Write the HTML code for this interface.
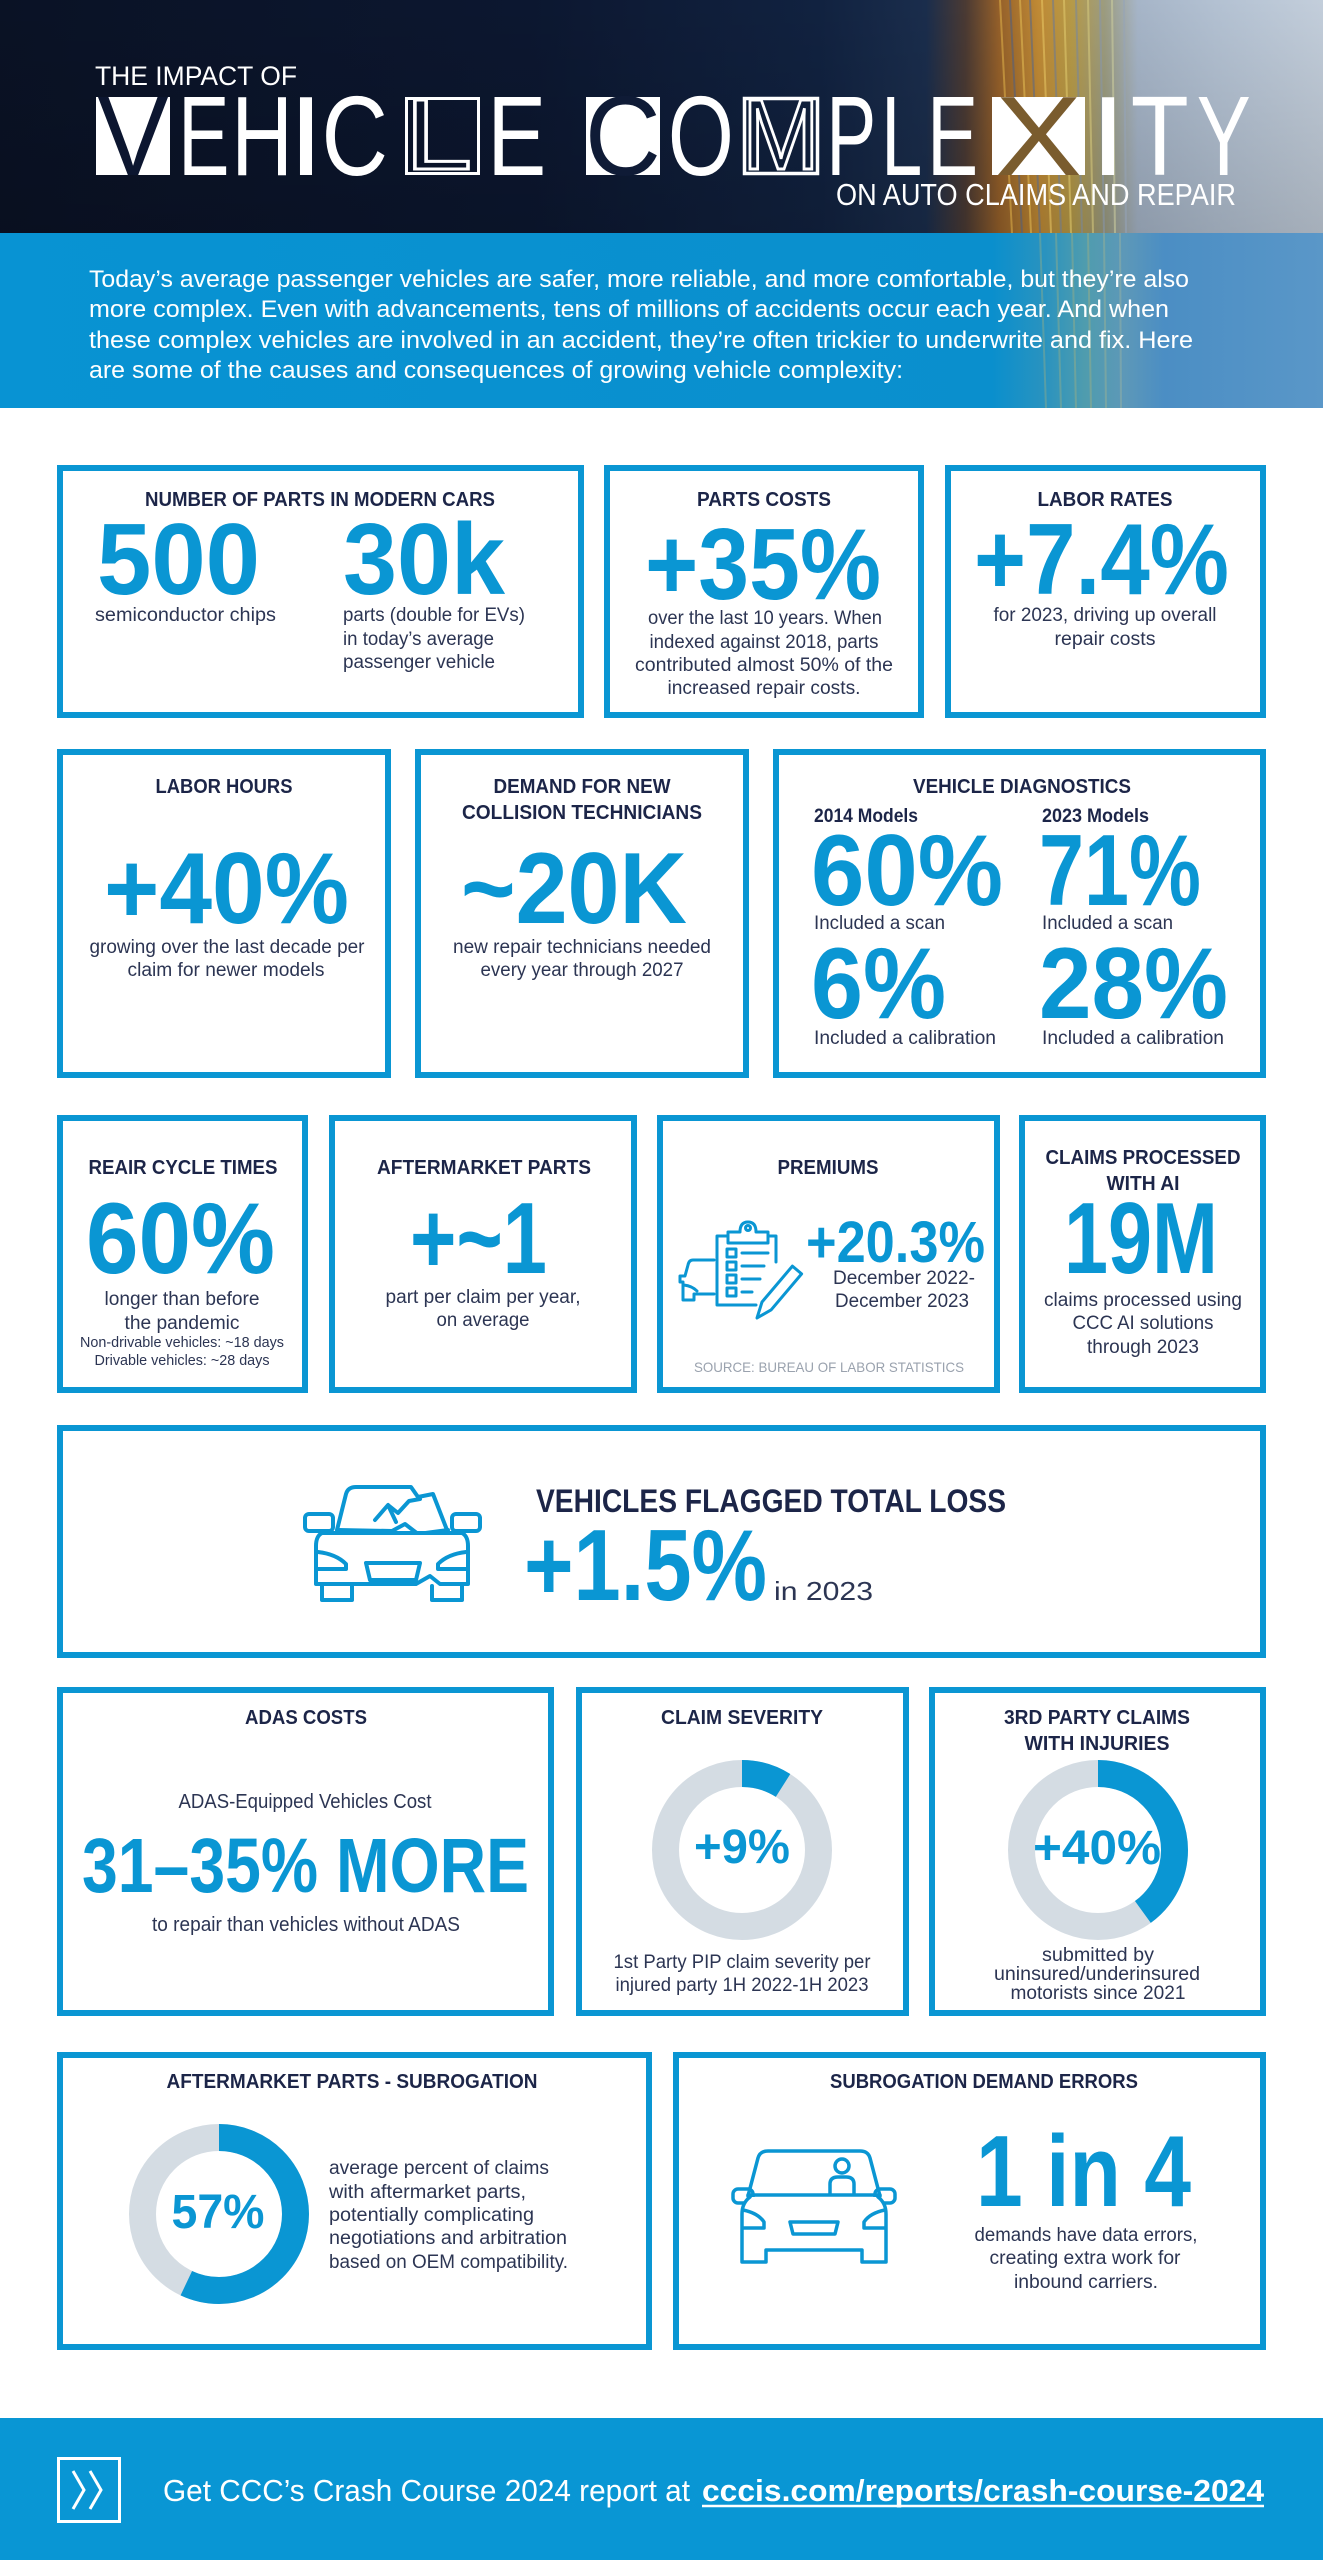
<!DOCTYPE html>
<html><head><meta charset="utf-8">
<style>
html,body{margin:0;padding:0;background:#fff;}
svg{display:block;}
text{font-family:"Liberation Sans",Arial,sans-serif;}
.t{font-weight:700;fill:#1c2548;font-size:20px;text-anchor:middle;}
.b{font-size:19px;fill:#2c3553;text-anchor:middle;}
.bl{font-size:19px;fill:#2c3553;}
.n{font-weight:700;fill:#0a96d3;font-size:101px;}
.nm{font-weight:700;fill:#0a96d3;font-size:48px;text-anchor:middle;}
.bx{fill:none;stroke:#0a96d3;stroke-width:6;}
.ic{fill:none;stroke:#0a96d3;stroke-width:4;stroke-linejoin:round;stroke-linecap:round;}
.hl{fill:#fff;font-size:113px;}
</style></head><body>
<svg width="1323" height="2560" viewBox="0 0 1323 2560" xmlns="http://www.w3.org/2000/svg">
<defs>
<linearGradient id="hg" x1="0" x2="1" y1="0" y2="0">
<stop offset="0" stop-color="#0a1225"/>
<stop offset="0.4" stop-color="#0c1730"/>
<stop offset="0.62" stop-color="#112240"/>
<stop offset="0.70" stop-color="#1a2d4c"/>
<stop offset="0.73" stop-color="#4b3a33"/>
<stop offset="0.755" stop-color="#95602a"/>
<stop offset="0.785" stop-color="#c08a35"/>
<stop offset="0.81" stop-color="#b69a48"/>
<stop offset="0.835" stop-color="#9c9c80"/>
<stop offset="0.86" stop-color="#a6b5c8"/>
<stop offset="0.92" stop-color="#b3c1d2"/>
<stop offset="1" stop-color="#c3cedb"/>
</linearGradient>
<linearGradient id="bg2" x1="0" x2="1" y1="0" y2="0">
<stop offset="0" stop-color="#0893d3"/>
<stop offset="0.75" stop-color="#0a8fcd"/>
<stop offset="0.79" stop-color="#2a93bf"/>
<stop offset="0.82" stop-color="#4f9cae"/>
<stop offset="0.85" stop-color="#5d98b8"/>
<stop offset="0.88" stop-color="#4b8ec4"/>
<stop offset="1" stop-color="#5a97c8"/>
</linearGradient>
<linearGradient id="vg" x1="0" x2="0" y1="0" y2="1">
<stop offset="0" stop-color="#000" stop-opacity="0"/>
<stop offset="1" stop-color="#000" stop-opacity="0.15"/>
</linearGradient>
</defs>

<!-- HEADER -->
<rect x="0" y="0" width="1323" height="233" fill="url(#hg)"/>
<rect x="0" y="0" width="1323" height="233" fill="url(#vg)"/>
<rect x="0" y="233" width="1323" height="175" fill="url(#bg2)"/>
<g stroke-width="2" opacity="0.55">
<line x1="1000" y1="0" x2="1012" y2="233" stroke="#e0b24a"/>
<line x1="1010" y1="0" x2="1022" y2="233" stroke="#4d5f85"/>
<line x1="1020" y1="0" x2="1031" y2="233" stroke="#e4bd55"/>
<line x1="1030" y1="0" x2="1040" y2="233" stroke="#56688c"/>
<line x1="1042" y1="0" x2="1051" y2="233" stroke="#e8c866"/>
<line x1="1053" y1="0" x2="1061" y2="233" stroke="#6a7a98"/>
<line x1="1064" y1="0" x2="1071" y2="233" stroke="#e2cc70"/>
<line x1="1076" y1="0" x2="1082" y2="233" stroke="#7687a2"/>
<line x1="1088" y1="0" x2="1093" y2="233" stroke="#d8cc80"/>
<line x1="1100" y1="0" x2="1104" y2="233" stroke="#8696ae"/>
<line x1="1112" y1="0" x2="1115" y2="233" stroke="#cfd0a0"/>
<line x1="1124" y1="0" x2="1126" y2="233" stroke="#95a4ba"/>
</g>
<g stroke-width="2" opacity="0.25">
<line x1="1040" y1="233" x2="1046" y2="408" stroke="#e0c060"/>
<line x1="1056" y1="233" x2="1061" y2="408" stroke="#e0c060"/>
<line x1="1072" y1="233" x2="1076" y2="408" stroke="#e0c060"/>
<line x1="1088" y1="233" x2="1091" y2="408" stroke="#e0c060"/>
<line x1="1104" y1="233" x2="1106" y2="408" stroke="#d8c878"/>
<line x1="1120" y1="233" x2="1121" y2="408" stroke="#d0c890"/>
</g>

<text x="95" y="85" fill="#fff" font-size="27" textLength="202" lengthAdjust="spacingAndGlyphs">THE IMPACT OF</text>

<!-- VEHICLE -->
<rect x="96" y="97" width="74" height="78" fill="#fff"/>
<text x="97.5" y="175" class="hl" style="fill:#0c1630" textLength="71" lengthAdjust="spacingAndGlyphs">V</text>
<text x="178.1" y="175" class="hl" textLength="51.3" lengthAdjust="spacingAndGlyphs">E</text>
<text x="231.2" y="175" class="hl" textLength="61.7" lengthAdjust="spacingAndGlyphs">H</text>
<text x="288.1" y="175" class="hl" textLength="35.8" lengthAdjust="spacingAndGlyphs">I</text>
<text x="321.5" y="175" class="hl" textLength="66.5" lengthAdjust="spacingAndGlyphs">C</text>
<rect x="406.5" y="98.5" width="72" height="75" fill="none" stroke="#fff" stroke-width="3"/>
<text x="405" y="169" font-size="100" fill="none" stroke="#fff" stroke-width="3" textLength="67" lengthAdjust="spacingAndGlyphs">L</text>
<text x="487.2" y="175" class="hl" textLength="59" lengthAdjust="spacingAndGlyphs">E</text>
<!-- COMPLEXITY -->
<rect x="586" y="97" width="74" height="78" fill="#fff"/>
<text x="584.9" y="175" class="hl" style="fill:#0f1b36" textLength="76" lengthAdjust="spacingAndGlyphs">C</text>
<text x="667.9" y="175" class="hl" textLength="66" lengthAdjust="spacingAndGlyphs">O</text>
<rect x="744.5" y="98.5" width="73" height="75" fill="none" stroke="#fff" stroke-width="3.5"/>
<text x="742.4" y="169" font-size="100" fill="none" stroke="#fff" stroke-width="3" textLength="77" lengthAdjust="spacingAndGlyphs">M</text>
<text x="826.2" y="175" class="hl" textLength="50" lengthAdjust="spacingAndGlyphs">P</text>
<text x="881.3" y="175" class="hl" textLength="41" lengthAdjust="spacingAndGlyphs">L</text>
<text x="927.1" y="175" class="hl" textLength="51" lengthAdjust="spacingAndGlyphs">E</text>
<rect x="992" y="97" width="93" height="78" fill="#fff"/>
<text x="995" y="175" class="hl" style="fill:#7a5c2e" textLength="87" lengthAdjust="spacingAndGlyphs">X</text>
<text x="1090.1" y="175" class="hl" textLength="36" lengthAdjust="spacingAndGlyphs">I</text>
<text x="1130.8" y="175" class="hl" textLength="58" lengthAdjust="spacingAndGlyphs">T</text>
<text x="1196.8" y="175" class="hl" textLength="54" lengthAdjust="spacingAndGlyphs">Y</text>

<text x="836" y="205" fill="#fff" font-size="31" textLength="400" lengthAdjust="spacingAndGlyphs">ON AUTO CLAIMS AND REPAIR</text>

<g fill="#fff" font-size="24">
<text x="89" y="287" textLength="1100" lengthAdjust="spacingAndGlyphs">Today’s average passenger vehicles are safer, more reliable, and more comfortable, but they’re also</text>
<text x="89" y="317" textLength="1080" lengthAdjust="spacingAndGlyphs">more complex. Even with advancements, tens of millions of accidents occur each year. And when</text>
<text x="89" y="348" textLength="1104" lengthAdjust="spacingAndGlyphs">these complex vehicles are involved in an accident, they’re often trickier to underwrite and fix. Here</text>
<text x="89" y="378" textLength="814" lengthAdjust="spacingAndGlyphs">are some of the causes and consequences of growing vehicle complexity:</text>
</g>

<!-- ROW 1 -->
<rect class="bx" x="60" y="468" width="521" height="247"/>
<rect class="bx" x="607" y="468" width="314" height="247"/>
<rect class="bx" x="948" y="468" width="315" height="247"/>

<text class="t" x="320" y="506" textLength="350" lengthAdjust="spacingAndGlyphs">NUMBER OF PARTS IN MODERN CARS</text>
<text class="n" x="97" y="594" textLength="163" lengthAdjust="spacingAndGlyphs">500</text>
<text class="n" x="343" y="594" textLength="162" lengthAdjust="spacingAndGlyphs">30k</text>
<text class="bl" x="95" y="621" textLength="181" lengthAdjust="spacingAndGlyphs">semiconductor chips</text>
<text class="bl" x="343" y="621" textLength="182" lengthAdjust="spacingAndGlyphs">parts (double for EVs)</text>
<text class="bl" x="343" y="645" textLength="151" lengthAdjust="spacingAndGlyphs">in today’s average</text>
<text class="bl" x="343" y="668" textLength="152" lengthAdjust="spacingAndGlyphs">passenger vehicle</text>

<text class="t" x="764" y="506" textLength="134" lengthAdjust="spacingAndGlyphs">PARTS COSTS</text>
<text class="n" x="645" y="599" textLength="236" lengthAdjust="spacingAndGlyphs">+35%</text>
<text class="b" x="765" y="624" textLength="234" lengthAdjust="spacingAndGlyphs">over the last 10 years. When</text>
<text class="b" x="764" y="648" textLength="229" lengthAdjust="spacingAndGlyphs">indexed against 2018, parts</text>
<text class="b" x="764" y="671" textLength="258" lengthAdjust="spacingAndGlyphs">contributed almost 50% of the</text>
<text class="b" x="764" y="694" textLength="193" lengthAdjust="spacingAndGlyphs">increased repair costs.</text>

<text class="t" x="1105" y="506" textLength="135" lengthAdjust="spacingAndGlyphs">LABOR RATES</text>
<text class="n" x="974" y="594" textLength="255" lengthAdjust="spacingAndGlyphs">+7.4%</text>
<text class="b" x="1105" y="621" textLength="223" lengthAdjust="spacingAndGlyphs">for 2023, driving up overall</text>
<text class="b" x="1105" y="645" textLength="101" lengthAdjust="spacingAndGlyphs">repair costs</text>

<!-- ROW 2 -->
<rect class="bx" x="60" y="752" width="328" height="323"/>
<rect class="bx" x="418" y="752" width="328" height="323"/>
<rect class="bx" x="776" y="752" width="487" height="323"/>

<text class="t" x="224" y="793" textLength="137" lengthAdjust="spacingAndGlyphs">LABOR HOURS</text>
<text class="n" x="104" y="923" textLength="245" lengthAdjust="spacingAndGlyphs">+40%</text>
<text class="b" x="227" y="953" textLength="275" lengthAdjust="spacingAndGlyphs">growing over the last decade per</text>
<text class="b" x="226" y="976" textLength="197" lengthAdjust="spacingAndGlyphs">claim for newer models</text>

<text class="t" x="582" y="793" textLength="177" lengthAdjust="spacingAndGlyphs">DEMAND FOR NEW</text>
<text class="t" x="582" y="819" textLength="240" lengthAdjust="spacingAndGlyphs">COLLISION TECHNICIANS</text>
<text class="n" x="461" y="923" textLength="226" lengthAdjust="spacingAndGlyphs">~20K</text>
<text class="b" x="582" y="953" textLength="258" lengthAdjust="spacingAndGlyphs">new repair technicians needed</text>
<text class="b" x="582" y="976" textLength="203" lengthAdjust="spacingAndGlyphs">every year through 2027</text>

<text class="t" x="1022" y="793" textLength="218" lengthAdjust="spacingAndGlyphs">VEHICLE DIAGNOSTICS</text>
<text x="814" y="822" font-size="19" font-weight="700" fill="#1c2548" textLength="104" lengthAdjust="spacingAndGlyphs">2014 Models</text>
<text x="1042" y="822" font-size="19" font-weight="700" fill="#1c2548" textLength="107" lengthAdjust="spacingAndGlyphs">2023 Models</text>
<text class="n" x="811" y="905" textLength="192" lengthAdjust="spacingAndGlyphs">60%</text>
<text class="n" x="1039" y="905" textLength="162" lengthAdjust="spacingAndGlyphs">71%</text>
<text class="bl" x="814" y="929" textLength="131" lengthAdjust="spacingAndGlyphs">Included a scan</text>
<text class="bl" x="1042" y="929" textLength="131" lengthAdjust="spacingAndGlyphs">Included a scan</text>
<text class="n" x="811" y="1018" textLength="135" lengthAdjust="spacingAndGlyphs">6%</text>
<text class="n" x="1039" y="1018" textLength="189" lengthAdjust="spacingAndGlyphs">28%</text>
<text class="bl" x="814" y="1044" textLength="182" lengthAdjust="spacingAndGlyphs">Included a calibration</text>
<text class="bl" x="1042" y="1044" textLength="182" lengthAdjust="spacingAndGlyphs">Included a calibration</text>

<!-- ROW 3 -->
<rect class="bx" x="60" y="1118" width="245" height="272"/>
<rect class="bx" x="332" y="1118" width="302" height="272"/>
<rect class="bx" x="660" y="1118" width="337" height="272"/>
<rect class="bx" x="1022" y="1118" width="241" height="272"/>

<text class="t" x="183" y="1174" textLength="189" lengthAdjust="spacingAndGlyphs">REAIR CYCLE TIMES</text>
<text class="n" x="86" y="1273" textLength="189" lengthAdjust="spacingAndGlyphs">60%</text>
<text class="b" x="182" y="1305" textLength="155" lengthAdjust="spacingAndGlyphs">longer than before</text>
<text class="b" x="182" y="1329" textLength="115" lengthAdjust="spacingAndGlyphs">the pandemic</text>
<text class="b" x="182" y="1347" style="font-size:15px" textLength="204" lengthAdjust="spacingAndGlyphs">Non-drivable vehicles: ~18 days</text>
<text class="b" x="182" y="1365" style="font-size:15px" textLength="175" lengthAdjust="spacingAndGlyphs">Drivable vehicles: ~28 days</text>

<text class="t" x="484" y="1174" textLength="214" lengthAdjust="spacingAndGlyphs">AFTERMARKET PARTS</text>
<text class="n" x="410" y="1273" textLength="137" lengthAdjust="spacingAndGlyphs">+~1</text>
<text class="b" x="483" y="1303" textLength="195" lengthAdjust="spacingAndGlyphs">part per claim per year,</text>
<text class="b" x="483" y="1326" textLength="93" lengthAdjust="spacingAndGlyphs">on average</text>

<text class="t" x="828" y="1174" textLength="101" lengthAdjust="spacingAndGlyphs">PREMIUMS</text>
<!-- premiums icon -->
<g class="ic" style="stroke-width:3">
<path d="M776,1262 L776,1236 L768,1236 M728,1236 L717,1236 L717,1305 L756,1305"/>
<path d="M728,1243 L728,1232 L740,1232 Q740,1222 748,1222 Q756,1222 756,1232 L768,1232 L768,1243 Z"/>
<circle cx="748" cy="1228" r="2.5"/>
<rect x="727" y="1249" width="9" height="8"/>
<rect x="727" y="1262" width="9" height="8"/>
<rect x="727" y="1275" width="9" height="8"/>
<rect x="727" y="1288" width="9" height="8"/>
<path d="M742,1253 L768,1253 M742,1266 L764,1266 M742,1279 L760,1279 M742,1292 L752,1292"/>
<polygon points="792.4,1266.1 801.6,1273.9 771.2,1309.8 757,1318 762,1302" fill="#fff"/>
<path d="M714,1260 L693,1260 Q689,1260 688,1265 L685,1276 L680,1276 L680,1282 L683,1282 L683,1300 L694,1300 L694,1294 L714,1294 M684,1285 Q692,1286 697,1291"/>
</g>
<text class="n" x="806" y="1262" style="font-size:58px" textLength="179" lengthAdjust="spacingAndGlyphs">+20.3%</text>
<text class="b" x="904" y="1284" textLength="142" lengthAdjust="spacingAndGlyphs">December 2022-</text>
<text class="b" x="902" y="1307" textLength="134" lengthAdjust="spacingAndGlyphs">December 2023</text>
<text x="829" y="1372" font-size="14" fill="#9aa2ae" text-anchor="middle" textLength="270" lengthAdjust="spacingAndGlyphs">SOURCE: BUREAU OF LABOR STATISTICS</text>

<text class="t" x="1143" y="1164" textLength="195" lengthAdjust="spacingAndGlyphs">CLAIMS PROCESSED</text>
<text class="t" x="1143" y="1190" textLength="73" lengthAdjust="spacingAndGlyphs">WITH AI</text>
<text class="n" x="1064" y="1273" textLength="154" lengthAdjust="spacingAndGlyphs">19M</text>
<text class="b" x="1143" y="1306" textLength="198" lengthAdjust="spacingAndGlyphs">claims processed using</text>
<text class="b" x="1143" y="1329" textLength="141" lengthAdjust="spacingAndGlyphs">CCC AI solutions</text>
<text class="b" x="1143" y="1353" textLength="112" lengthAdjust="spacingAndGlyphs">through 2023</text>

<!-- ROW 4 -->
<rect class="bx" x="60" y="1428" width="1203" height="227"/>
<g class="ic">
<rect x="305" y="1514" width="28" height="17" rx="4"/>
<rect x="452" y="1514" width="28" height="17" rx="4"/>
<path d="M337,1530 L346,1494 Q348,1487 356,1487 L411,1487 L418,1497 L433,1494 L447,1530"/>
<path d="M338,1530 L392,1531 L405,1524 L418,1534 L448,1530"/>
<path d="M375,1520 L388,1505 L398,1513 L409,1501 L420,1499 M388,1505 L396,1522"/>
<path d="M322,1533 L462,1533 Q468,1536 468,1546 L468,1584 L440,1584 L430,1576 L416,1584 L316,1584 L316,1546 Q316,1536 322,1533 Z" fill="#fff"/>
<path d="M318,1552 Q336,1554 346,1564 L346,1569 L318,1569 M466,1552 Q448,1554 438,1564 L438,1569 L466,1569"/>
<path d="M366,1563 L420,1563 L416,1580 L370,1580 Z"/>
<path d="M322,1586 L322,1600 L352,1600 L352,1586 M432,1586 L432,1600 L462,1600 L462,1586"/>
</g>
<text x="536" y="1512" font-size="32" font-weight="700" fill="#1c2548" textLength="470" lengthAdjust="spacingAndGlyphs">VEHICLES FLAGGED TOTAL LOSS</text>
<text class="n" x="524" y="1600" textLength="243" lengthAdjust="spacingAndGlyphs">+1.5%</text>
<text x="774" y="1600" font-size="26" fill="#2c3553" textLength="99" lengthAdjust="spacingAndGlyphs">in 2023</text>

<!-- ROW 5 -->
<rect class="bx" x="60" y="1690" width="491" height="323"/>
<rect class="bx" x="579" y="1690" width="327" height="323"/>
<rect class="bx" x="932" y="1690" width="331" height="323"/>

<text class="t" x="306" y="1724" textLength="122" lengthAdjust="spacingAndGlyphs">ADAS COSTS</text>
<text x="305" y="1808" font-size="20" fill="#2c3553" text-anchor="middle" textLength="253" lengthAdjust="spacingAndGlyphs">ADAS-Equipped Vehicles Cost</text>
<text class="n" x="82" y="1892" style="font-size:77px" textLength="447" lengthAdjust="spacingAndGlyphs">31–35% MORE</text>
<text x="306" y="1931" font-size="20" fill="#2c3553" text-anchor="middle" textLength="308" lengthAdjust="spacingAndGlyphs">to repair than vehicles without ADAS</text>

<text class="t" x="742" y="1724" textLength="162" lengthAdjust="spacingAndGlyphs">CLAIM SEVERITY</text>
<circle cx="742" cy="1850" r="76.5" fill="none" stroke="#d4dce3" stroke-width="27"/>
<circle cx="742" cy="1850" r="76.5" fill="none" stroke="#0a96d3" stroke-width="27" stroke-dasharray="43.3 1000" transform="rotate(-90 742 1850)"/>
<text class="nm" x="742" y="1863" textLength="96" lengthAdjust="spacingAndGlyphs">+9%</text>
<text class="b" x="742" y="1968" textLength="257" lengthAdjust="spacingAndGlyphs">1st Party PIP claim severity per</text>
<text class="b" x="742" y="1991" textLength="253" lengthAdjust="spacingAndGlyphs">injured party 1H 2022-1H 2023</text>

<text class="t" x="1097" y="1724" textLength="186" lengthAdjust="spacingAndGlyphs">3RD PARTY CLAIMS</text>
<text class="t" x="1097" y="1750" textLength="145" lengthAdjust="spacingAndGlyphs">WITH INJURIES</text>
<circle cx="1098" cy="1850" r="76.5" fill="none" stroke="#d4dce3" stroke-width="27"/>
<circle cx="1098" cy="1850" r="76.5" fill="none" stroke="#0a96d3" stroke-width="27" stroke-dasharray="192.3 1000" transform="rotate(-90 1098 1850)"/>
<text class="nm" x="1097" y="1864" textLength="128" lengthAdjust="spacingAndGlyphs">+40%</text>
<text class="b" x="1098" y="1961" textLength="112" lengthAdjust="spacingAndGlyphs">submitted by</text>
<text class="b" x="1097" y="1980" textLength="206" lengthAdjust="spacingAndGlyphs">uninsured/underinsured</text>
<text class="b" x="1098" y="1999" textLength="175" lengthAdjust="spacingAndGlyphs">motorists since 2021</text>

<!-- ROW 6 -->
<rect class="bx" x="60" y="2055" width="589" height="292"/>
<rect class="bx" x="676" y="2055" width="587" height="292"/>

<text class="t" x="352" y="2088" textLength="371" lengthAdjust="spacingAndGlyphs">AFTERMARKET PARTS - SUBROGATION</text>
<circle cx="219" cy="2214" r="76.5" fill="none" stroke="#d4dce3" stroke-width="27"/>
<circle cx="219" cy="2214" r="76.5" fill="none" stroke="#0a96d3" stroke-width="27" stroke-dasharray="274 1000" transform="rotate(-90 219 2214)"/>
<text class="nm" x="218" y="2228" textLength="93" lengthAdjust="spacingAndGlyphs">57%</text>
<text class="bl" x="329" y="2174" textLength="220" lengthAdjust="spacingAndGlyphs">average percent of claims</text>
<text class="bl" x="329" y="2198" textLength="197" lengthAdjust="spacingAndGlyphs">with aftermarket parts,</text>
<text class="bl" x="329" y="2221" textLength="205" lengthAdjust="spacingAndGlyphs">potentially complicating</text>
<text class="bl" x="329" y="2244" textLength="238" lengthAdjust="spacingAndGlyphs">negotiations and arbitration</text>
<text class="bl" x="329" y="2268" textLength="239" lengthAdjust="spacingAndGlyphs">based on OEM compatibility.</text>

<text class="t" x="984" y="2088" textLength="308" lengthAdjust="spacingAndGlyphs">SUBROGATION DEMAND ERRORS</text>
<g class="ic" style="stroke-width:3.5">
<rect x="733" y="2189" width="20" height="14" rx="5"/>
<rect x="875" y="2189" width="20" height="14" rx="5"/>
<path d="M748,2196 L758,2158 Q760,2151 768,2151 L860,2151 Q868,2151 870,2158 L880,2196"/>
<path d="M748,2195 L880,2195"/>
<path d="M750,2197 Q742,2203 742,2214 L742,2262 L766,2262 L766,2250 L862,2250 L862,2262 L886,2262 L886,2214 Q886,2203 878,2197" fill="#fff"/>
<path d="M743,2210 Q758,2213 764,2222 L764,2228 L743,2228 M885,2210 Q870,2213 864,2222 L864,2228 L885,2228"/>
<path d="M790,2222 L838,2222 L835,2234 L793,2234 Z"/>
<circle cx="842" cy="2166" r="7"/>
<path d="M830,2194 L830,2184 Q830,2177 838,2177 L846,2177 Q854,2177 854,2184 L854,2194"/>
</g>
<text class="n" x="976" y="2206" textLength="215" lengthAdjust="spacingAndGlyphs">1 in 4</text>
<text class="b" x="1086" y="2241" textLength="223" lengthAdjust="spacingAndGlyphs">demands have data errors,</text>
<text class="b" x="1085" y="2264" textLength="191" lengthAdjust="spacingAndGlyphs">creating extra work for</text>
<text class="b" x="1086" y="2288" textLength="144" lengthAdjust="spacingAndGlyphs">inbound carriers.</text>

<!-- FOOTER -->
<rect x="0" y="2418" width="1323" height="142" fill="#0996d4"/>
<rect x="58.5" y="2458.5" width="61" height="63" fill="none" stroke="#fff" stroke-width="3"/>
<path d="M73,2471 L84,2490 L73,2509 M90,2471 L101,2490 L90,2509" fill="none" stroke="#fff" stroke-width="3"/>
<text x="163" y="2501" font-size="31" fill="#fff" textLength="527" lengthAdjust="spacingAndGlyphs">Get CCC’s Crash Course 2024 report at</text>
<text x="702" y="2501" font-size="31" font-weight="700" fill="#fff" textLength="562" lengthAdjust="spacingAndGlyphs">cccis.com/reports/crash-course-2024</text>
<line x1="702" y1="2506" x2="1264" y2="2506" stroke="#fff" stroke-width="2.5"/>
</svg>
</body></html>
